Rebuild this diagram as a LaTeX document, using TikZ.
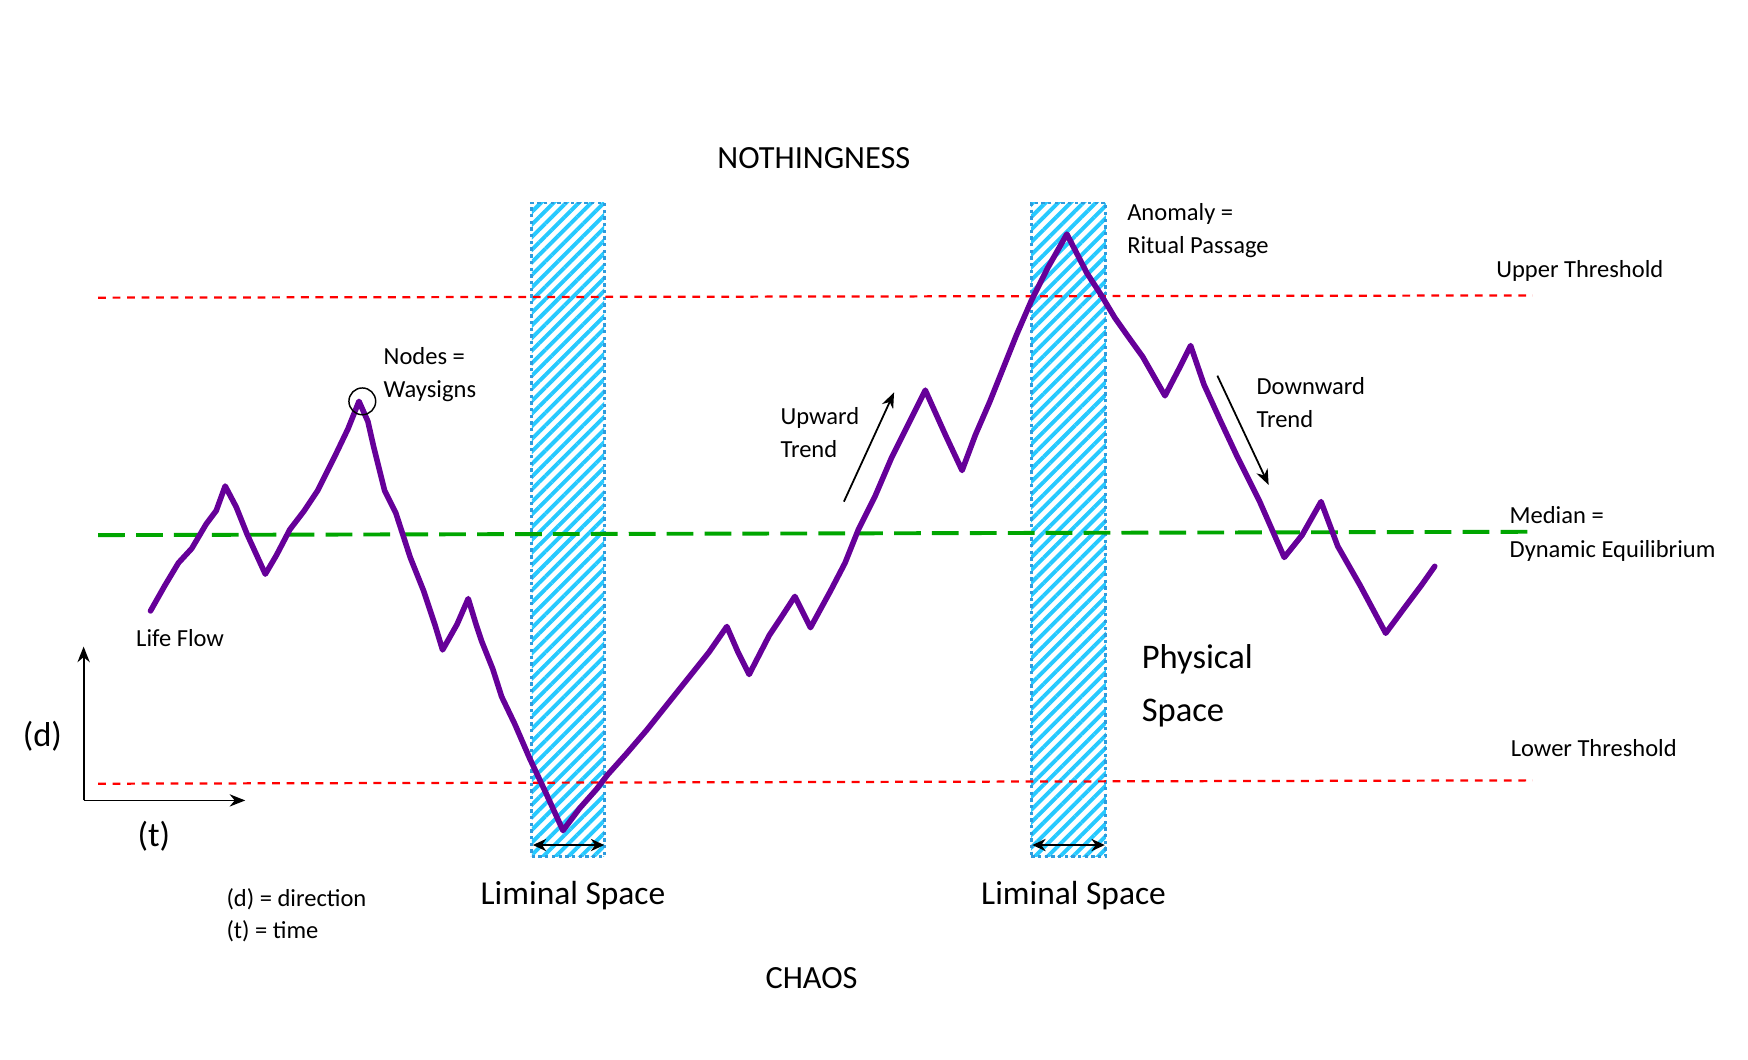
\documentclass[tikz,border=0pt]{standalone}
\usepackage{fontspec}
\setmainfont{Carlito}
\usetikzlibrary{patterns.meta,arrows.meta}
\begin{document}
\begin{tikzpicture}[x=1pt,y=-1pt,
  lbl/.style={font=\fontsize{22}{26}\selectfont,align=left,inner sep=0},
  big/.style={font=\fontsize{30}{40}\selectfont,align=left,inner sep=0},
  barfill/.style={pattern={Lines[angle=45,distance=8pt,line width=3.5pt]},pattern color=cyan!75!blue!85},
  bar/.style={draw=cyan!75!blue!85,dashed,line width=2.5pt},
  arr/.style={-{Stealth[length=14pt,width=11pt]},line width=1.6pt}]
\useasboundingbox[fill=white] (0,0) rectangle (1568,950);
\fill[barfill] (477,182) rectangle (542,768);
\fill[barfill] (925,182) rectangle (992,768);
\node[bar,minimum width=65pt,minimum height=586pt,inner sep=0] (b1) at (509.5,475) {};
\node[bar,minimum width=67pt,minimum height=586pt,inner sep=0] (b2) at (958.5,475) {};
\coordinate (u1) at (88,267); \coordinate (u2) at (1375,265);
\coordinate (l1) at (88,703); \coordinate (l2) at (1375,700);
\coordinate (m1) at (88,480); \coordinate (m2) at (1375,477);
\draw[red,line width=2pt,dash pattern=on 7pt off 6pt] (u1)--(u2);
\draw[red,line width=2pt,dash pattern=on 7pt off 6pt] (l1)--(l2);
\draw[green!65!black,line width=3.5pt,dash pattern=on 24pt off 10pt] (m1)--(m2);
\draw[violet!80!blue,line width=5pt,line join=round,line cap=round]
(135,548)--(148,525)--(160,505)--(172,492)--(185,470)--(194,458)--(202,436)--(212,455)--(222,480)--(238,515)--(248,498)--(260,475)--(273,458)--(285,440)--(300,410)--(312,385)--(322,360)--(330,378)--(335,400)--(345,440)--(355,460)--(368,500)--(380,530)--(390,560)--(397,583)--(410,560)--(420,537)--(427,560)--(432,575)--(442,600)--(450,625)--(462,650)--(475,680)--(490,712)--(505,745)--(520,725)--(535,708)--(545,695)--(562,676)--(580,655)--(600,630)--(620,605)--(636,585)--(652,562)--(662,585)--(672,605)--(690,570)--(700,555)--(713,535)--(727,563)--(745,530)--(758,505)--(770,475)--(785,445)--(800,410)--(815,380)--(830,350)--(848,390)--(863,422)--(875,390)--(888,360)--(900,330)--(912,300)--(925,270)--(940,240)--(957,210)--(975,245)--(988,265)--(1000,285)--(1012,302)--(1025,320)--(1045,355)--(1058,330)--(1068,310)--(1080,345)--(1095,378)--(1110,410)--(1130,450)--(1152,500)--(1168,480)--(1185,450)--(1200,490)--(1220,525)--(1243,568)--(1260,545)--(1275,525)--(1287,508);
\draw[line width=1.3pt] (325,360) circle (12);
\coordinate (o) at (75,718);
\coordinate (ay) at (75,580);
\coordinate (ax) at (220,718);
\draw[arr] (o)--(ay); \draw[arr] (o)--(ax);
\coordinate (d1a) at (478,758); \coordinate (d1b) at (542,758);
\coordinate (d2a) at (926,758); \coordinate (d2b) at (991,758);
\draw[{Stealth[length=12pt,width=11pt]}-{Stealth[length=12pt,width=11pt]},line width=1.6pt] (d1a)--(d1b);
\draw[{Stealth[length=12pt,width=11pt]}-{Stealth[length=12pt,width=11pt]},line width=1.6pt] (d2a)--(d2b);
\coordinate (ua) at (757,450); \coordinate (ub) at (802,352);
\coordinate (da) at (1092,337); \coordinate (db) at (1138,435);
\draw[arr] (ua)--(ub); \draw[arr] (da)--(db);
\node[font=\fontsize{29}{30}\selectfont] (nt) at (730,142) {NOTHINGNESS};
\node[font=\fontsize{29}{30}\selectfont] (ch) at (728,877) {CHAOS};
\node[big] (ls1) at (514,803) {Liminal Space};
\node[big] (ls2) at (963,803) {Liminal Space};
\node[big,anchor=west,font=\fontsize{31}{47}\selectfont] (ps) at (1024,615) {Physical\\Space};
\node[big,font=\fontsize{31}{34}\selectfont] (dd) at (38,660) {(d)};
\node[big,font=\fontsize{31}{34}\selectfont] (tt) at (138,750) {(t)};
\node[lbl,anchor=west] (lf) at (122,572) {Life Flow};
\node[lbl,anchor=west,font=\fontsize{22}{30}\selectfont] (nw) at (344,336) {Nodes =\\Waysigns};
\node[lbl,anchor=west,font=\fontsize{22}{30}\selectfont] (ut) at (700,388) {Upward\\Trend};
\node[lbl,anchor=west,font=\fontsize{22}{30}\selectfont] (dt) at (1127,361) {Downward\\Trend};
\node[lbl,anchor=west,font=\fontsize{22}{30}\selectfont] (an) at (1011,207) {Anomaly =\\Ritual Passage};
\node[lbl,anchor=west] (ut2) at (1342,243) {Upper Threshold};
\node[lbl,anchor=west] (lt) at (1355,671) {Lower Threshold};
\node[lbl,anchor=west,font=\fontsize{22}{30}\selectfont] (md) at (1354,479) {Median =\\Dynamic Equilibrium};
\node[lbl,anchor=west,font=\fontsize{22}{29}\selectfont] (leg) at (203,821) {(d) = direction\\(t) = time};
\end{tikzpicture}
\end{document}
